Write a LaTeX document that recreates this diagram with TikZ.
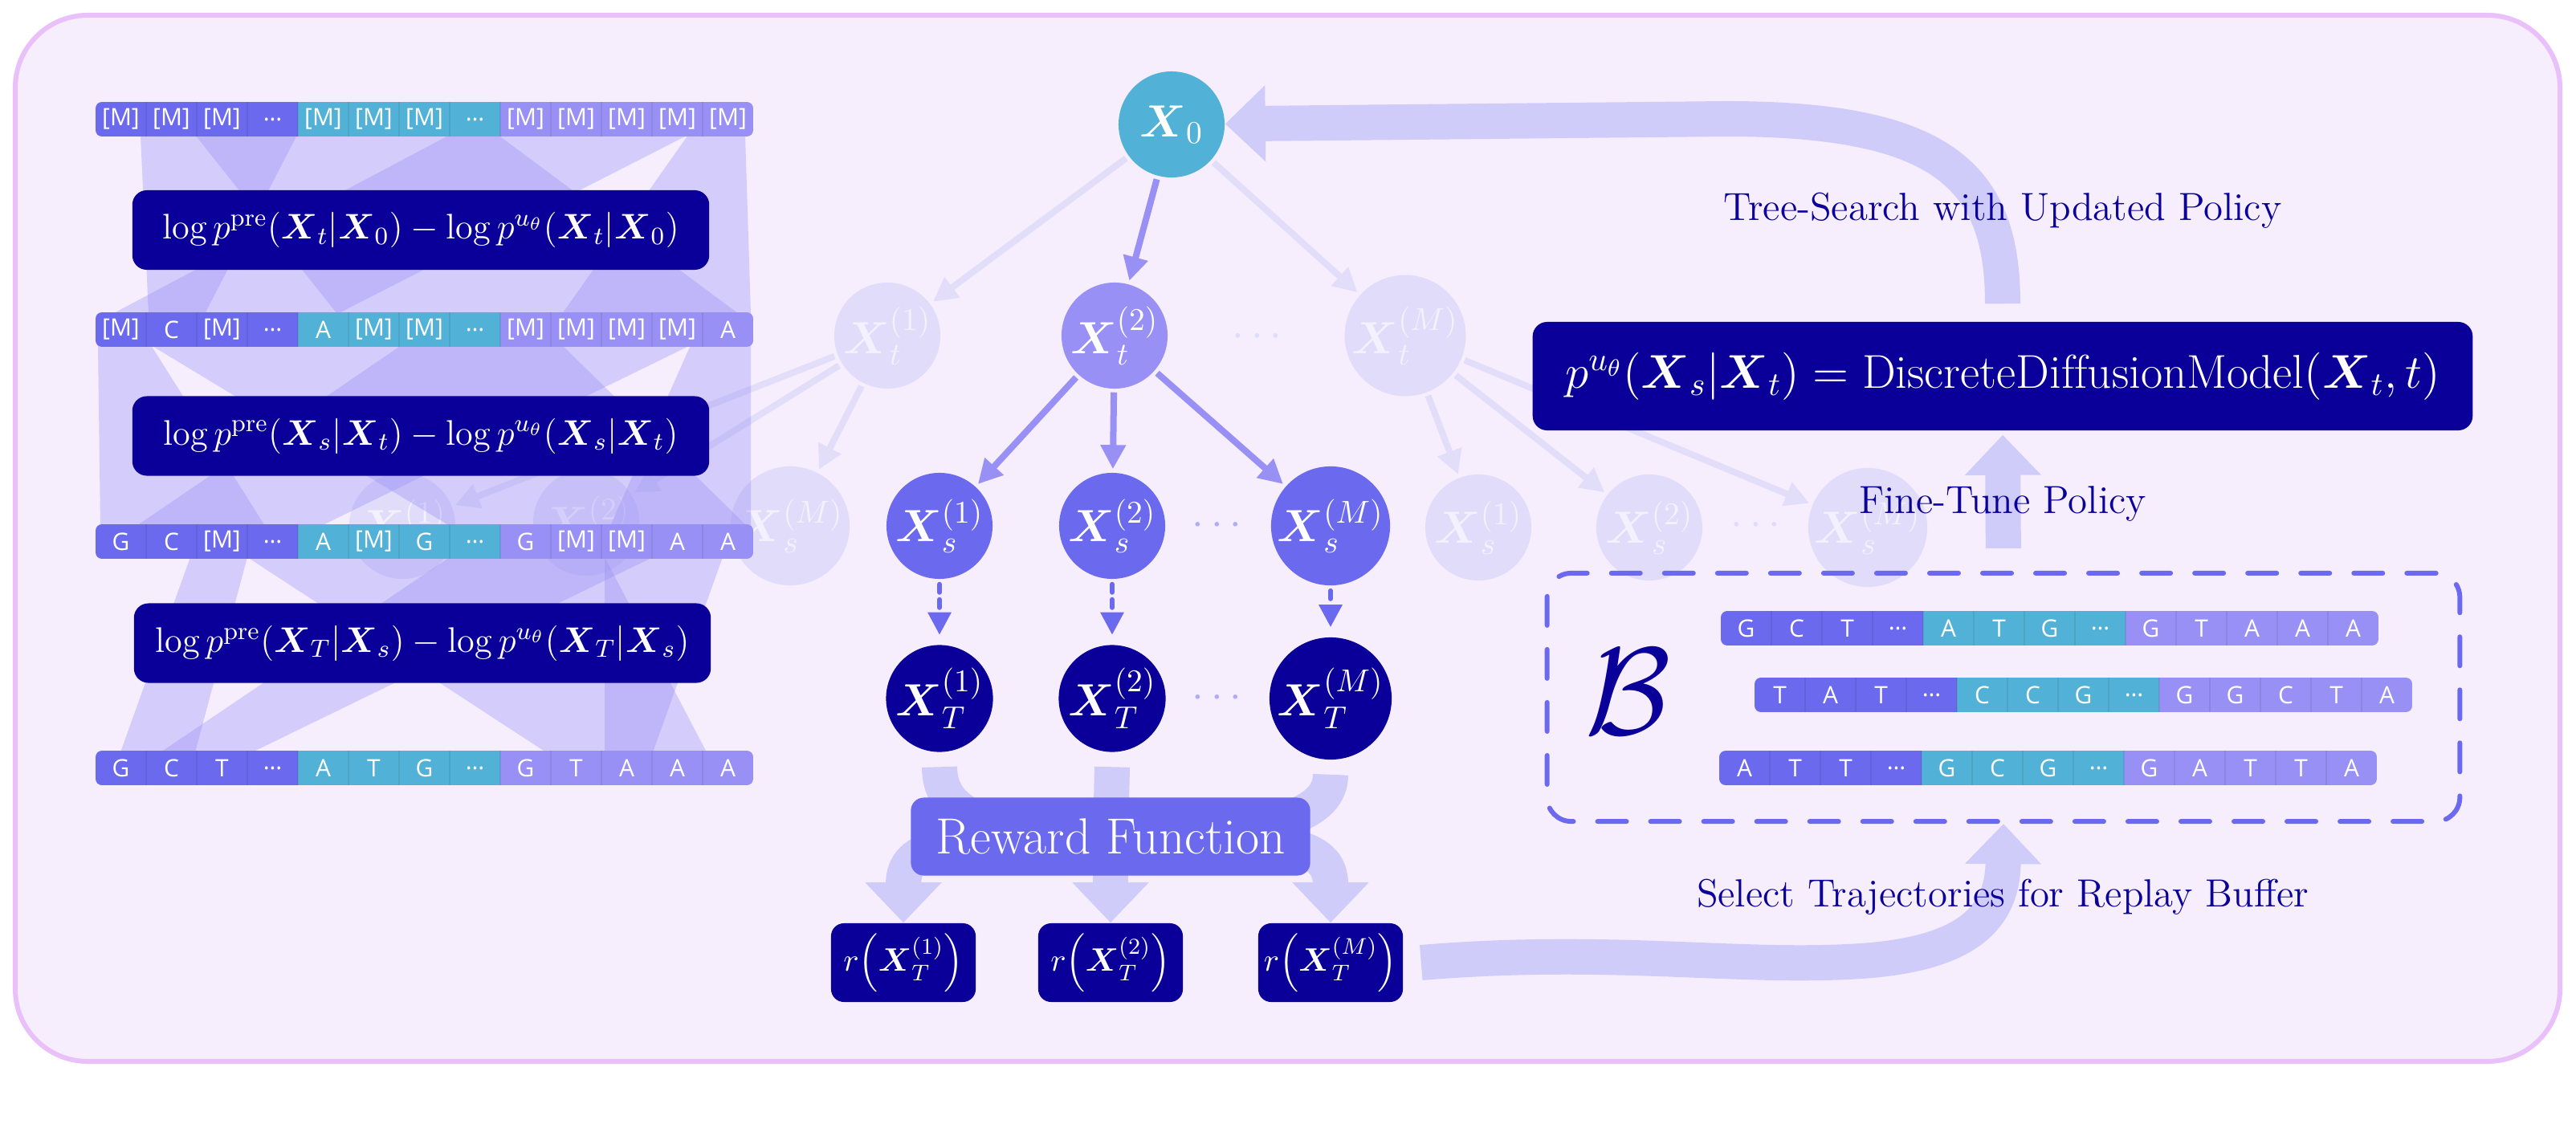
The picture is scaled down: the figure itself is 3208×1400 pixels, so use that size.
\RequirePackage{fix-cm}
\documentclass[tikz,border=0pt]{standalone}
\usepackage{amsmath}
\usepackage{amssymb}
\usepackage{fontspec}
\newfontfamily\cellfont{Open Sans}
\usepackage{tikz}
\usetikzlibrary{arrows.meta,calc,positioning}

\definecolor{navy}{HTML}{0A0099}
\definecolor{indigo}{HTML}{6B69EE}
\definecolor{seqteal}{HTML}{52B1D6}
\definecolor{lilac}{HTML}{9990F5}
\definecolor{ghostc}{HTML}{E1DCFA}
\definecolor{ghosttxt}{HTML}{F4F1FE}
\definecolor{ghostline}{HTML}{E2DEFA}
\definecolor{bandc}{HTML}{CFCCFA}
\definecolor{framec}{HTML}{E9C0F9}
\definecolor{paper}{HTML}{F6EEFD}

\pgfdeclarelayer{base}
\pgfdeclarelayer{flow}
\pgfsetlayers{base,flow,main}

\newcommand{\bX}{\boldsymbol{X}}
\newcommand{\cond}[2]{{\left(\bX_{#1}\middle|\bX_{#2}\right)}}

\tikzset{outerframe/.style={draw=framec, fill=paper, line width=0.06cm, rounded corners=0.9cm},
         xnode/.style={circle, minimum size=1.32cm, inner sep=0pt, text=white, font=\fontsize{16}{19}\selectfont},
         ghostnode/.style={xnode, fill=ghostc, text=ghosttxt},
         tdots/.style={font=\fontsize{15}{18}\selectfont, inner sep=0pt},
         treearr/.style={draw=lilac, line width=0.08cm, -{Triangle[length=0.3cm,width=0.3cm]}, shorten <=0.04cm, shorten >=0.04cm},
         ghostarr/.style={treearr, draw=ghostline},
         dasharr/.style={draw=indigo, line width=0.06cm, dash pattern=on 0.1cm off 0.09cm, line cap=round, -{Triangle[length=0.28cm,width=0.28cm]}, shorten <=0.06cm, shorten >=0.12cm},
         navybox/.style={fill=navy, rounded corners=0.18cm, text=white, inner sep=0pt},
         klbox/.style={navybox, minimum width=7.18cm, minimum height=0.99cm, font=\fontsize{12.6}{15}\selectfont},
         rbox/.style={navybox, minimum width=1.8cm, minimum height=0.98cm, rounded corners=0.16cm, font=\fontsize{11.5}{14}\selectfont},
         rewbox/.style={fill=indigo, rounded corners=0.16cm, text=white, inner sep=0pt, minimum width=4.97cm, minimum height=0.97cm, font=\fontsize{18}{21}\selectfont},
         mix/.style={fill=lilac, fill opacity=0.36},
         celltxt/.style={text=white, font=\cellfont\fontsize{8.5}{10}\selectfont, inner sep=0pt},
         cellsep/.style={draw=black, draw opacity=0.07, line width=0.4pt},
         flow/.style={draw=bandc, line width=0.44cm},
         flowtip/.style={-{Triangle[length=0.5cm,width=0.92cm]}},
         caption/.style={text=navy, font=\fontsize{13.9}{16}\selectfont, inner sep=0pt},
         bufbox/.style={draw=indigo, line width=0.06cm, dash pattern=on 0.36cm off 0.3cm, line cap=round, rounded corners=0.3cm, minimum width=11.36cm, minimum height=3.09cm}
}

% a row of 13 tokens: name, left x, top y, labels
\newcommand{\seqrow}[4]{%
  \begin{scope}
    \clip[rounded corners=0.08cm] (#2,#3) rectangle ++(819,43);
    \fill[indigo] (#2,#3) rectangle ++(252,43);
    \fill[seqteal] (#2+252,#3) rectangle ++(252,43);
    \fill[lilac] (#2+504,#3) rectangle ++(315,43);
    \foreach \k in {1,...,12} \draw[cellsep] (#2+\k*63,#3) -- ++(0,43);
  \end{scope}
  \foreach \lab [count=\k] in {#4}
    \node[celltxt] (#1-\k) at (#2+\k*63-31.5,#3+21.5) {\lab};
}

\begin{document}
\begin{tikzpicture}[x=0.01cm, y=-0.01cm]
  \useasboundingbox (0,0) rectangle (3208,1400);
  \begin{pgfonlayer}{base}
    \fill[white] (0,0) rectangle (3208,1400);
    \draw[outerframe] (19,19) rectangle (3188,1322);
  \end{pgfonlayer}

  % tree
  \node[xnode, fill=seqteal] (x0) at (1459,155) {$\bX_0$};
  \node[ghostnode] (xt1) at (1105,418) {$\bX_t^{(1)}$};
  \node[xnode, fill=lilac] (xt2) at (1388,418) {$\bX_t^{(2)}$};
  \node[tdots, text=ghostc] (xtdots) at (1570,420) {$\cdots$};
  \node[ghostnode] (xtM) at (1750,418) {$\bX_t^{(M)}$};

  \node[ghostnode] (xsl1) at (501,655) {$\bX_s^{(1)}$};
  \node[ghostnode] (xsl2) at (730,651) {$\bX_s^{(2)}$};
  \node[ghostnode] (xslM) at (984,655) {$\bX_s^{(M)}$};
  \node[xnode, fill=indigo] (xs1) at (1170,655) {$\bX_s^{(1)}$};
  \node[xnode, fill=indigo] (xs2) at (1385,655) {$\bX_s^{(2)}$};
  \node[tdots, text=lilac!75!white] (xsdots) at (1520,655) {$\cdots$};
  \node[xnode, fill=indigo] (xsM) at (1657,655) {$\bX_s^{(M)}$};
  \node[ghostnode] (xsr1) at (1841,657) {$\bX_s^{(1)}$};
  \node[ghostnode] (xsr2) at (2054,657) {$\bX_s^{(2)}$};
  \node[tdots, text=ghostc] (xsrdots) at (2191,655) {$\cdots$};
  \node[ghostnode] (xsrM) at (2326,657) {$\bX_s^{(M)}$};

  \node[xnode, fill=navy] (xT1) at (1170,870) {$\bX_T^{(1)}$};
  \node[xnode, fill=navy] (xT2) at (1385,870) {$\bX_T^{(2)}$};
  \node[tdots, text=lilac!75!white] (xTdots) at (1520,870) {$\cdots$};
  \node[xnode, fill=navy] (xTM) at (1657,870) {$\bX_T^{(M)}$};

  \draw[ghostarr] (x0) -- (xt1);
  \draw[ghostarr] (x0) -- (xtM);
  \draw[treearr] (x0) -- (xt2);
  \draw[treearr] (xt2) -- (xs1);
  \draw[treearr] (xt2) -- (xs2);
  \draw[treearr] (xt2) -- (xsM);
  \draw[ghostarr] (xt1) -- (xsl1);
  \draw[ghostarr] (xt1) -- (xsl2);
  \draw[ghostarr] (xt1) -- (xslM);
  \draw[ghostarr] (xtM) -- (xsr1);
  \draw[ghostarr] (xtM) -- (xsr2);
  \draw[ghostarr] (xtM) -- (xsrM);
  \draw[dasharr] (xs1) -- (xT1);
  \draw[dasharr] (xs2) -- (xT2);
  \draw[dasharr] (xsM) -- (xTM);

  % left panel
  \fill[mix] (175,168) -- (370,168) -- (255,391) -- (185,391) -- cycle;
  \fill[mix] (243,168) -- (620,168) -- (920,391) -- (420,391) -- cycle;
  \fill[mix] (560,168) -- (857,168) -- (420,391) -- (140,391) -- cycle;
  \fill[mix] (857,168) -- (928,168) -- (935,391) -- (700,391) -- cycle;
  \fill[mix] (122,430) -- (188,430) -- (330,655) -- (125,655) -- cycle;
  \fill[mix] (188,430) -- (700,430) -- (930,655) -- (560,655) -- cycle;
  \fill[mix] (500,430) -- (860,430) -- (400,655) -- (170,655) -- cycle;
  \fill[mix] (860,430) -- (935,430) -- (935,655) -- (760,655) -- cycle;
  \fill[mix] (237,694) -- (308,694) -- (243,937) -- (150,937) -- cycle;
  \fill[mix] (308,694) -- (753,694) -- (880,937) -- (680,937) -- cycle;
  \fill[mix] (560,694) -- (813,694) -- (314,937) -- (200,937) -- cycle;
  \fill[mix] (753,694) -- (900,694) -- (813,937) -- (753,937) -- cycle;

  \seqrow{r1}{119}{127}{{[M]},{[M]},{[M]},…,{[M]},{[M]},{[M]},…,{[M]},{[M]},{[M]},{[M]},{[M]}}
  \seqrow{r2}{119}{389}{{[M]},C,{[M]},…,A,{[M]},{[M]},…,{[M]},{[M]},{[M]},{[M]},A}
  \seqrow{r3}{119}{653}{G,C,{[M]},…,A,{[M]},G,…,G,{[M]},{[M]},A,A}
  \seqrow{r4}{119}{935}{G,C,T,…,A,T,G,…,G,T,A,A,A}

  \node[klbox] (kl1) at (524,286.5) {$\log p^{\mathrm{pre}}\cond{t}{0}-\log p^{u_\theta}\cond{t}{0}$};
  \node[klbox] (kl2) at (524,543) {$\log p^{\mathrm{pre}}\cond{s}{t}-\log p^{u_\theta}\cond{s}{t}$};
  \node[klbox] (kl3) at (526,801) {$\log p^{\mathrm{pre}}\cond{T}{s}-\log p^{u_\theta}\cond{T}{s}$};

  % reward
  \node[rewbox] (rew) at (1383,1042) {Reward Function};
  \node[rbox] (r1) at (1125,1199) {$r{\left(\bX_T^{(1)}\right)}$};
  \node[rbox] (r2) at (1383,1199) {$r{\left(\bX_T^{(2)}\right)}$};
  \node[rbox] (rM) at (1657,1199) {$r{\left(\bX_T^{(M)}\right)}$};

  % right side
  \node[navybox, minimum width=11.7cm, minimum height=1.35cm, font=\fontsize{16.8}{20}\selectfont] (ddm) at (2494,468.5)
    {$p^{u_\theta}\cond{s}{t}=\mathrm{DiscreteDiffusionModel}{\left(\bX_t,t\right)}$};
  \node[bufbox] (buf) at (2495,868.5) {};
  \node[text=navy, font=\fontsize{44}{50}\selectfont, inner sep=0pt] (bsym) at (2028,862) {$\mathcal{B}$};
  \seqrow{b1}{2143}{761}{G,C,T,…,A,T,G,…,G,T,A,A,A}
  \seqrow{b2}{2185}{844}{T,A,T,…,C,C,G,…,G,G,C,T,A}
  \seqrow{b3}{2141}{935}{A,T,T,…,G,C,G,…,G,A,T,T,A}

  \node[caption] (lbltree) at (2494,262) {Tree-Search with Updated Policy};
  \node[caption] (lblfine) at (2494,628) {Fine-Tune Policy};
  \node[caption] (lblsel) at (2494,1117) {Select Trajectories for Replay Buffer};

  % wide arrows
  \begin{pgfonlayer}{flow}
    \draw[flow] ($(xT1.south)+(0,18)$) .. controls (1170,1010) and (1220,1042) .. (rew.center);
    \draw[flow] ($(xT2.south)+(0,18)$) -- (rew.center);
    \draw[flow] ($(xTM.south)+(0,18)$) .. controls (1657,1010) and (1600,1042) .. (rew.center);
    \draw[flow, flowtip] (rew.center) .. controls (1180,1042) and (1125,1050) .. (r1.north);
    \draw[flow, flowtip] (rew.center) -- (r2.north);
    \draw[flow, flowtip] (rew.center) .. controls (1600,1042) and (1657,1050) .. (rM.north);
    \draw[flow, flowtip] ($(rM.east)+(22,0)$) .. controls (2000,1180) and (2150,1205) .. (2300,1198)
      .. controls (2440,1192) and (2494,1150) .. (buf.south);
    \draw[flow, flowtip, shorten <=0.28cm, shorten >=0.05cm] (buf.north) -- (ddm.south);
    \draw[flow, flowtip] ($(ddm.north)+(0,-22)$) .. controls (2494,220) and (2420,148) .. (2150,148) -- (x0);
  \end{pgfonlayer}
\end{tikzpicture}
\end{document}
